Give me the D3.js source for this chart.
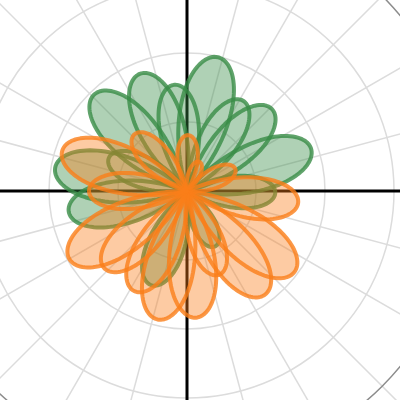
<!DOCTYPE html>
<html>
<head>
<meta charset="utf-8">
<script src="https://cdn.jsdelivr.net/npm/d3@7"></script>
<style>
  body { margin: 0; background: #fff; }
  svg { display: block; }
</style>
</head>
<body>
<script>
// petal directions (deg, clockwise from 12 o'clock) and petal lengths (grid units)
let greenAngles = [13, 32, 46, 71, 91, 153, 201, 260, 280, 293, 316, 338, 353],
  greenLengths = [1.99, 1.54, 1.71, 1.9, 1.28, 0.9, 1.46, 1.74, 1.94, 1.23, 1.94, 1.83, 1.55];

let orangeAngles = [23, 1, 65, 96, 127, 143, 159, 176, 193, 208, 227, 240, 270, 288, 317],
  orangeLengths = [0.46, 0.81, 0.77, 1.62, 1.95, 1.88, 1.3, 1.84, 1.91, 1.64, 1.64, 1.97, 1.42, 1.9, 1.12];

let gridRings = [1, 2, 3],
  outerRing = 4,
  spokeStep = 15;

let width = 400,
  height = 400,
  cx = 187,
  cy = 191;

let r = d3.scaleLinear().domain([0, outerRing]).range([0, 276]);

let svg = d3
  .select("body")
  .append("svg")
  .attr("width", width)
  .attr("height", height);

let g = svg.append("g").attr("transform", "translate(" + cx + "," + cy + ")");

// spokes
g.selectAll(".spoke")
  .data(d3.range(0, 360, spokeStep))
  .enter()
  .append("line")
  .attr("x1", 0)
  .attr("y1", 0)
  .attr("x2", (d) => 420 * Math.sin((d * Math.PI) / 180))
  .attr("y2", (d) => -420 * Math.cos((d * Math.PI) / 180))
  .attr("stroke", "#dcdcdc")
  .attr("stroke-width", 1.5);

// rings
g.selectAll(".ring")
  .data(gridRings)
  .enter()
  .append("circle")
  .attr("r", (d) => r(d))
  .attr("fill", "none")
  .attr("stroke", "#dcdcdc")
  .attr("stroke-width", 1.5);

g.append("circle")
  .attr("r", r(outerRing))
  .attr("fill", "none")
  .attr("stroke", "#8c8c8c")
  .attr("stroke-width", 1.5);

// axes
g.append("line")
  .attr("x1", -cx).attr("x2", width - cx)
  .attr("y1", 0).attr("y2", 0)
  .attr("stroke", "#000").attr("stroke-width", 3);
g.append("line")
  .attr("x1", 0).attr("x2", 0)
  .attr("y1", -cy).attr("y2", height - cy)
  .attr("stroke", "#000").attr("stroke-width", 3);

// one petal = a rose lobe r = L cos(3 phi)
let k = 3;
let petalLine = d3
  .lineRadial()
  .angle((d) => d.a)
  .radius((d) => r(d.r))
  .curve(d3.curveLinear);

function petalPoints(angle, len) {
  let half = Math.PI / (2 * k),
    a0 = (angle * Math.PI) / 180;
  return d3.range(0, 81).map(function (i) {
    let phi = -half + (2 * half * i) / 80;
    return { a: a0 + phi, r: Math.max(0, len * Math.cos(k * phi)) };
  });
}

function drawSeries(angles, lengths, color) {
  let paths = angles.map((a, i) => petalLine(petalPoints(a, lengths[i])) + "Z");

  // union of petals, filled once
  g.append("path")
    .attr("d", paths.join(""))
    .attr("fill", color)
    .attr("fill-opacity", 0.4)
    .attr("fill-rule", "nonzero");

  g.selectAll(null)
    .data(paths)
    .enter()
    .append("path")
    .attr("d", (d) => d)
    .attr("fill", "none")
    .attr("stroke", color)
    .attr("stroke-opacity", 0.8)
    .attr("stroke-width", 4)
    .attr("stroke-linejoin", "round");
}

drawSeries(greenAngles, greenLengths, "#388c46");
drawSeries(orangeAngles, orangeLengths, "#fa7e19");
</script>
</body>
</html>
